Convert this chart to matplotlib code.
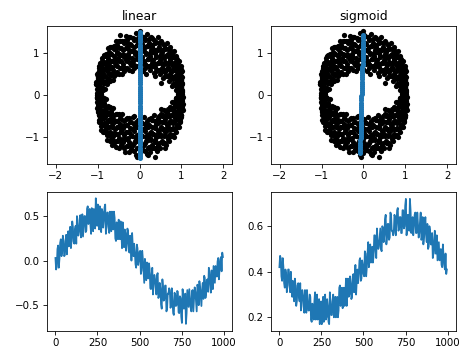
import numpy as np
import matplotlib
matplotlib.use('Agg')
import matplotlib.pyplot as plt

# input ring (same points in both top panels), first set: 6 points per row
ring_x = [
    1.00, 1.03, 0.98, 1.02, 0.97, 1.01,
    1.00, 1.03, 0.98, 1.02, 0.97, 1.01,
    0.98, 1.01, 0.96, 1.00, 0.95, 0.99,
    0.97, 1.00, 0.95, 0.99, 0.94, 0.98,
    0.94, 0.97, 0.92, 0.96, 0.91, 0.95,
    0.91, 0.94, 0.89, 0.93, 0.88, 0.92,
    0.87, 0.90, 0.85, 0.89, 0.84, 0.88,
    0.82, 0.85, 0.80, 0.84, 0.79, 0.83,
    0.77, 0.80, 0.75, 0.79, 0.74, 0.78,
    0.71, 0.74, 0.69, 0.73, 0.68, 0.72,
    0.64, 0.67, 0.62, 0.66, 0.61, 0.65,
    0.57, 0.60, 0.55, 0.59, 0.54, 0.58,
    0.50, 0.53, 0.48, 0.52, 0.47, 0.51,
    0.42, 0.45, 0.40, 0.44, 0.39, 0.43,
    0.34, 0.37, 0.32, 0.36, 0.31, 0.35,
    0.26, 0.29, 0.24, 0.28, 0.23, 0.27,
    0.17, 0.20, 0.15, 0.19, 0.14, 0.18,
    0.09, 0.12, 0.07, 0.11, 0.06, 0.10,
    0.00, 0.03, -0.02, 0.02, -0.03, 0.01,
    -0.09, -0.06, -0.11, -0.07, -0.12, -0.08,
    -0.17, -0.14, -0.19, -0.15, -0.20, -0.16,
    -0.26, -0.23, -0.28, -0.24, -0.29, -0.25,
    -0.34, -0.31, -0.36, -0.32, -0.37, -0.33,
    -0.42, -0.39, -0.44, -0.40, -0.45, -0.41,
    -0.50, -0.47, -0.52, -0.48, -0.53, -0.49,
    -0.57, -0.54, -0.59, -0.55, -0.60, -0.56,
    -0.64, -0.61, -0.66, -0.62, -0.67, -0.63,
    -0.71, -0.68, -0.73, -0.69, -0.74, -0.70,
    -0.77, -0.74, -0.79, -0.75, -0.80, -0.76,
    -0.82, -0.79, -0.84, -0.80, -0.85, -0.81,
    -0.87, -0.84, -0.89, -0.85, -0.90, -0.86,
    -0.91, -0.88, -0.93, -0.89, -0.94, -0.90,
    -0.94, -0.91, -0.96, -0.92, -0.97, -0.93,
    -0.97, -0.94, -0.99, -0.95, -1.00, -0.96,
    -0.98, -0.95, -1.00, -0.96, -1.01, -0.97,
    -1.00, -0.97, -1.02, -0.98, -1.03, -0.99,
    -1.00, -0.97, -1.02, -0.98, -1.03, -0.99,
    -1.00, -0.97, -1.02, -0.98, -1.03, -0.99,
    -0.98, -0.95, -1.00, -0.96, -1.01, -0.97,
    -0.97, -0.94, -0.99, -0.95, -1.00, -0.96,
    -0.94, -0.91, -0.96, -0.92, -0.97, -0.93,
    -0.91, -0.88, -0.93, -0.89, -0.94, -0.90,
    -0.87, -0.84, -0.89, -0.85, -0.90, -0.86,
    -0.82, -0.79, -0.84, -0.80, -0.85, -0.81,
    -0.77, -0.74, -0.79, -0.75, -0.80, -0.76,
    -0.71, -0.68, -0.73, -0.69, -0.74, -0.70,
    -0.64, -0.61, -0.66, -0.62, -0.67, -0.63,
    -0.57, -0.54, -0.59, -0.55, -0.60, -0.56,
    -0.50, -0.47, -0.52, -0.48, -0.53, -0.49,
    -0.42, -0.39, -0.44, -0.40, -0.45, -0.41,
    -0.34, -0.31, -0.36, -0.32, -0.37, -0.33,
    -0.26, -0.23, -0.28, -0.24, -0.29, -0.25,
    -0.17, -0.14, -0.19, -0.15, -0.20, -0.16,
    -0.09, -0.06, -0.11, -0.07, -0.12, -0.08,
    0.00, 0.03, -0.02, 0.02, -0.03, 0.01,
    0.09, 0.12, 0.07, 0.11, 0.06, 0.10,
    0.17, 0.20, 0.15, 0.19, 0.14, 0.18,
    0.26, 0.29, 0.24, 0.28, 0.23, 0.27,
    0.34, 0.37, 0.32, 0.36, 0.31, 0.35,
    0.42, 0.45, 0.40, 0.44, 0.39, 0.43,
    0.50, 0.53, 0.48, 0.52, 0.47, 0.51,
    0.57, 0.60, 0.55, 0.59, 0.54, 0.58,
    0.64, 0.67, 0.62, 0.66, 0.61, 0.65,
    0.71, 0.74, 0.69, 0.73, 0.68, 0.72,
    0.77, 0.80, 0.75, 0.79, 0.74, 0.78,
    0.82, 0.85, 0.80, 0.84, 0.79, 0.83,
    0.87, 0.90, 0.85, 0.89, 0.84, 0.88,
    0.91, 0.94, 0.89, 0.93, 0.88, 0.92,
    0.94, 0.97, 0.92, 0.96, 0.91, 0.95,
    0.97, 1.00, 0.95, 0.99, 0.94, 0.98,
    0.98, 1.01, 0.96, 1.00, 0.95, 0.99,
    1.00, 1.03, 0.98, 1.02, 0.97, 1.01,
    0.16, 0.36, 0.52, -0.14, 0.52, 0.37,
    -0.05, 0.20, 0.00, -0.47, 0.62, -0.66,
]
ring_y = [
    -0.38, -0.22, -0.05, 0.10, 0.26, 0.42,
    -0.22, -0.05, 0.11, 0.27, 0.43, 0.56,
    -0.25, -0.10, 0.07, 0.22, 0.38, 0.54,
    -0.12, 0.04, 0.21, 0.36, 0.52, 0.68,
    0.03, 0.20, 0.36, 0.52, 0.68, 0.81,
    0.00, 0.15, 0.32, 0.47, 0.63, 0.79,
    0.12, 0.28, 0.45, 0.60, 0.76, 0.92,
    0.26, 0.43, 0.59, 0.75, 0.91, 1.04,
    0.22, 0.37, 0.54, 0.69, 0.85, 1.01,
    0.33, 0.49, 0.66, 0.81, 0.97, 1.13,
    0.46, 0.63, 0.79, 0.95, 1.11, 1.24,
    0.40, 0.55, 0.72, 0.87, 1.03, 1.19,
    0.49, 0.65, 0.82, 0.97, 1.13, 1.29,
    0.60, 0.77, 0.93, 1.09, 1.25, 1.38,
    0.52, 0.67, 0.84, 0.99, 1.15, 1.31,
    0.59, 0.75, 0.92, 1.07, 1.23, 1.39,
    0.68, 0.85, 1.00, 1.17, 1.33, 1.46,
    0.58, 0.73, 0.90, 1.05, 1.21, 1.37,
    0.62, 0.78, 0.95, 1.10, 1.26, 1.42,
    0.69, 0.86, 1.02, 1.18, 1.34, 1.47,
    0.57, 0.72, 0.89, 1.04, 1.20, 1.36,
    0.59, 0.75, 0.92, 1.07, 1.23, 1.39,
    0.63, 0.80, 0.96, 1.12, 1.28, 1.41,
    0.49, 0.64, 0.81, 0.96, 1.12, 1.28,
    0.49, 0.65, 0.82, 0.97, 1.13, 1.29,
    0.51, 0.68, 0.84, 1.00, 1.16, 1.29,
    0.35, 0.50, 0.67, 0.82, 0.98, 1.14,
    0.33, 0.49, 0.66, 0.81, 0.97, 1.13,
    0.33, 0.50, 0.66, 0.82, 0.98, 1.11,
    0.15, 0.30, 0.47, 0.62, 0.78, 0.94,
    0.12, 0.28, 0.45, 0.60, 0.76, 0.92,
    0.11, 0.28, 0.44, 0.60, 0.76, 0.89,
    -0.08, 0.07, 0.24, 0.39, 0.55, 0.71,
    -0.12, 0.04, 0.21, 0.36, 0.52, 0.68,
    -0.14, 0.03, 0.19, 0.35, 0.51, 0.64,
    -0.33, -0.18, -0.01, 0.14, 0.30, 0.46,
    -0.38, -0.22, -0.05, 0.10, 0.26, 0.42,
    -0.40, -0.23, -0.07, 0.09, 0.25, 0.38,
    -0.59, -0.44, -0.27, -0.12, 0.04, 0.20,
    -0.64, -0.48, -0.31, -0.16, 0.00, 0.16,
    -0.65, -0.48, -0.32, -0.16, 0.00, 0.13,
    -0.84, -0.69, -0.52, -0.37, -0.21, -0.05,
    -0.88, -0.72, -0.55, -0.40, -0.24, -0.08,
    -0.88, -0.71, -0.55, -0.39, -0.23, -0.10,
    -1.06, -0.91, -0.74, -0.59, -0.43, -0.27,
    -1.09, -0.93, -0.76, -0.61, -0.45, -0.29,
    -1.08, -0.91, -0.75, -0.59, -0.43, -0.30,
    -1.24, -1.09, -0.92, -0.77, -0.61, -0.45,
    -1.25, -1.09, -0.92, -0.77, -0.61, -0.45,
    -1.22, -1.05, -0.89, -0.73, -0.57, -0.44,
    -1.36, -1.21, -1.04, -0.89, -0.73, -0.57,
    -1.35, -1.19, -1.02, -0.87, -0.71, -0.55,
    -1.30, -1.13, -0.97, -0.81, -0.65, -0.52,
    -1.42, -1.27, -1.10, -0.95, -0.79, -0.63,
    -1.38, -1.22, -1.05, -0.90, -0.74, -0.58,
    -1.31, -1.14, -0.98, -0.82, -0.66, -0.53,
    -1.41, -1.26, -1.09, -0.94, -0.78, -0.62,
    -1.35, -1.19, -1.02, -0.87, -0.71, -0.55,
    -1.25, -1.08, -0.92, -0.76, -0.60, -0.47,
    -1.33, -1.18, -1.01, -0.86, -0.70, -0.54,
    -1.25, -1.09, -0.92, -0.77, -0.61, -0.45,
    -1.13, -0.96, -0.80, -0.64, -0.48, -0.35,
    -1.19, -1.04, -0.87, -0.72, -0.56, -0.40,
    -1.09, -0.93, -0.76, -0.61, -0.45, -0.29,
    -0.95, -0.78, -0.62, -0.46, -0.30, -0.17,
    -0.99, -0.84, -0.67, -0.52, -0.36, -0.20,
    -0.88, -0.72, -0.55, -0.40, -0.24, -0.08,
    -0.73, -0.56, -0.40, -0.24, -0.08, 0.05,
    -0.76, -0.61, -0.44, -0.29, -0.13, 0.03,
    -0.64, -0.48, -0.31, -0.16, 0.00, 0.16,
    -0.48, -0.31, -0.15, 0.01, 0.17, 0.30,
    -0.51, -0.36, -0.19, -0.04, 0.12, 0.28,
    0.50, 0.44, 0.29, -0.49, -0.33, -1.47,
    -1.47, -1.42, 1.51, 1.42, -1.27, -1.18,
]

# second set of ring points, 5 per row
ring_x_b = [
    1.01, 0.98, 1.02, 0.99, 1.00,
    1.00, 0.97, 1.01, 0.98, 0.99,
    0.99, 0.96, 1.00, 0.97, 0.98,
    0.96, 0.93, 0.97, 0.94, 0.95,
    0.93, 0.90, 0.94, 0.91, 0.92,
    0.90, 0.87, 0.91, 0.88, 0.89,
    0.85, 0.82, 0.86, 0.83, 0.84,
    0.80, 0.77, 0.81, 0.78, 0.79,
    0.75, 0.72, 0.76, 0.73, 0.74,
    0.69, 0.66, 0.70, 0.67, 0.68,
    0.62, 0.59, 0.63, 0.60, 0.61,
    0.55, 0.52, 0.56, 0.53, 0.54,
    0.47, 0.44, 0.48, 0.45, 0.46,
    0.39, 0.36, 0.40, 0.37, 0.38,
    0.31, 0.28, 0.32, 0.29, 0.30,
    0.23, 0.20, 0.24, 0.21, 0.22,
    0.14, 0.11, 0.15, 0.12, 0.13,
    0.05, 0.02, 0.06, 0.03, 0.04,
    -0.03, -0.06, -0.02, -0.05, -0.04,
    -0.12, -0.15, -0.11, -0.14, -0.13,
    -0.21, -0.24, -0.20, -0.23, -0.22,
    -0.29, -0.32, -0.28, -0.31, -0.30,
    -0.37, -0.40, -0.36, -0.39, -0.38,
    -0.45, -0.48, -0.44, -0.47, -0.46,
    -0.53, -0.56, -0.52, -0.55, -0.54,
    -0.60, -0.63, -0.59, -0.62, -0.61,
    -0.67, -0.70, -0.66, -0.69, -0.68,
    -0.73, -0.76, -0.72, -0.75, -0.74,
    -0.78, -0.81, -0.77, -0.80, -0.79,
    -0.83, -0.86, -0.82, -0.85, -0.84,
    -0.88, -0.91, -0.87, -0.90, -0.89,
    -0.91, -0.94, -0.90, -0.93, -0.92,
    -0.94, -0.97, -0.93, -0.96, -0.95,
    -0.97, -1.00, -0.96, -0.99, -0.98,
    -0.98, -1.01, -0.97, -1.00, -0.99,
    -0.99, -1.02, -0.98, -1.01, -1.00,
    -0.99, -1.02, -0.98, -1.01, -1.00,
    -0.98, -1.01, -0.97, -1.00, -0.99,
    -0.97, -1.00, -0.96, -0.99, -0.98,
    -0.94, -0.97, -0.93, -0.96, -0.95,
    -0.91, -0.94, -0.90, -0.93, -0.92,
    -0.88, -0.91, -0.87, -0.90, -0.89,
    -0.83, -0.86, -0.82, -0.85, -0.84,
    -0.78, -0.81, -0.77, -0.80, -0.79,
    -0.73, -0.76, -0.72, -0.75, -0.74,
    -0.67, -0.70, -0.66, -0.69, -0.68,
    -0.60, -0.63, -0.59, -0.62, -0.61,
    -0.53, -0.56, -0.52, -0.55, -0.54,
    -0.45, -0.48, -0.44, -0.47, -0.46,
    -0.37, -0.40, -0.36, -0.39, -0.38,
    -0.29, -0.32, -0.28, -0.31, -0.30,
    -0.21, -0.24, -0.20, -0.23, -0.22,
    -0.12, -0.15, -0.11, -0.14, -0.13,
    -0.03, -0.06, -0.02, -0.05, -0.04,
    0.05, 0.02, 0.06, 0.03, 0.04,
    0.14, 0.11, 0.15, 0.12, 0.13,
    0.23, 0.20, 0.24, 0.21, 0.22,
    0.31, 0.28, 0.32, 0.29, 0.30,
    0.39, 0.36, 0.40, 0.37, 0.38,
    0.47, 0.44, 0.48, 0.45, 0.46,
    0.55, 0.52, 0.56, 0.53, 0.54,
    0.62, 0.59, 0.63, 0.60, 0.61,
    0.69, 0.66, 0.70, 0.67, 0.68,
    0.75, 0.72, 0.76, 0.73, 0.74,
    0.80, 0.77, 0.81, 0.78, 0.79,
    0.85, 0.82, 0.86, 0.83, 0.84,
    0.90, 0.87, 0.91, 0.88, 0.89,
    0.93, 0.90, 0.94, 0.91, 0.92,
    0.96, 0.93, 0.97, 0.94, 0.95,
    0.99, 0.96, 1.00, 0.97, 0.98,
    1.00, 0.97, 1.01, 0.98, 0.99,
    1.01, 0.98, 1.02, 0.99, 1.00,
]
ring_y_b = [
    -0.26, -0.09, 0.07, 0.23, 0.39,
    -0.22, -0.06, 0.11, 0.27, 0.44,
    -0.04, 0.13, 0.29, 0.45, 0.62,
    0.00, 0.17, 0.33, 0.49, 0.65,
    0.03, 0.19, 0.36, 0.52, 0.69,
    0.20, 0.37, 0.53, 0.69, 0.86,
    0.24, 0.41, 0.57, 0.73, 0.89,
    0.26, 0.42, 0.59, 0.75, 0.92,
    0.42, 0.59, 0.75, 0.91, 1.08,
    0.44, 0.61, 0.77, 0.93, 1.09,
    0.44, 0.60, 0.77, 0.93, 1.10,
    0.58, 0.75, 0.91, 1.07, 1.24,
    0.59, 0.76, 0.92, 1.08, 1.24,
    0.57, 0.73, 0.90, 1.06, 1.23,
    0.69, 0.86, 1.02, 1.18, 1.35,
    0.68, 0.85, 1.01, 1.17, 1.33,
    0.64, 0.80, 0.97, 1.13, 1.30,
    0.74, 0.91, 1.07, 1.23, 1.40,
    0.70, 0.87, 1.03, 1.19, 1.35,
    0.64, 0.80, 0.97, 1.13, 1.30,
    0.72, 0.89, 1.05, 1.21, 1.38,
    0.65, 0.82, 0.98, 1.14, 1.30,
    0.57, 0.73, 0.90, 1.06, 1.23,
    0.63, 0.80, 0.96, 1.12, 1.29,
    0.54, 0.71, 0.87, 1.03, 1.19,
    0.44, 0.60, 0.77, 0.93, 1.10,
    0.48, 0.65, 0.81, 0.97, 1.14,
    0.38, 0.55, 0.71, 0.87, 1.03,
    0.26, 0.42, 0.59, 0.75, 0.92,
    0.28, 0.45, 0.61, 0.77, 0.94,
    0.16, 0.33, 0.49, 0.65, 0.81,
    0.03, 0.19, 0.36, 0.52, 0.69,
    0.04, 0.21, 0.37, 0.53, 0.70,
    -0.08, 0.09, 0.25, 0.41, 0.57,
    -0.22, -0.06, 0.11, 0.27, 0.44,
    -0.22, -0.05, 0.11, 0.27, 0.44,
    -0.34, -0.17, -0.01, 0.15, 0.31,
    -0.48, -0.32, -0.15, 0.01, 0.18,
    -0.48, -0.31, -0.15, 0.01, 0.18,
    -0.60, -0.43, -0.27, -0.11, 0.05,
    -0.73, -0.57, -0.40, -0.24, -0.07,
    -0.72, -0.55, -0.39, -0.23, -0.06,
    -0.84, -0.67, -0.51, -0.35, -0.19,
    -0.96, -0.80, -0.63, -0.47, -0.30,
    -0.94, -0.77, -0.61, -0.45, -0.28,
    -1.04, -0.87, -0.71, -0.55, -0.39,
    -1.14, -0.98, -0.81, -0.65, -0.48,
    -1.10, -0.93, -0.77, -0.61, -0.44,
    -1.19, -1.02, -0.86, -0.70, -0.54,
    -1.27, -1.11, -0.94, -0.78, -0.61,
    -1.21, -1.04, -0.88, -0.72, -0.55,
    -1.28, -1.11, -0.95, -0.79, -0.63,
    -1.34, -1.18, -1.01, -0.85, -0.68,
    -1.26, -1.09, -0.93, -0.77, -0.60,
    -1.30, -1.13, -0.97, -0.81, -0.65,
    -1.34, -1.18, -1.01, -0.85, -0.68,
    -1.24, -1.07, -0.91, -0.75, -0.58,
    -1.25, -1.08, -0.92, -0.76, -0.60,
    -1.27, -1.11, -0.94, -0.78, -0.61,
    -1.15, -0.98, -0.82, -0.66, -0.49,
    -1.14, -0.97, -0.81, -0.65, -0.49,
    -1.14, -0.98, -0.81, -0.65, -0.48,
    -1.00, -0.83, -0.67, -0.51, -0.34,
    -0.98, -0.81, -0.65, -0.49, -0.33,
    -0.96, -0.80, -0.63, -0.47, -0.30,
    -0.80, -0.63, -0.47, -0.31, -0.14,
    -0.76, -0.59, -0.43, -0.27, -0.11,
    -0.73, -0.57, -0.40, -0.24, -0.07,
    -0.56, -0.39, -0.23, -0.07, 0.10,
    -0.52, -0.35, -0.19, -0.03, 0.13,
    -0.48, -0.32, -0.15, 0.01, 0.18,
    -0.30, -0.13, 0.03, 0.19, 0.36,
]

# model outputs drawn on top (blue column)
linear_col_y = [
    -1.50, -1.45, -1.40, -1.35, -1.30, -1.25, -1.20, -1.15, -1.10, -1.05,
    -1.00, -0.95, -0.90, -0.85, -0.80, -0.75, -0.70, -0.65, -0.60, -0.55,
    -0.50, -0.45, -0.40, -0.35, -0.30, -0.25, -0.20, -0.15, -0.10, -0.05,
    0.00, 0.05, 0.10, 0.15, 0.20, 0.25, 0.30, 0.35, 0.40, 0.45,
    0.50, 0.55, 0.60, 0.65, 0.70, 0.75, 0.80, 0.85, 0.90, 0.95,
    1.00, 1.05, 1.10, 1.15, 1.20, 1.25, 1.30, 1.35, 1.40, 1.45, 1.50,
]
linear_col_x = [0.0] * len(linear_col_y)
sigmoid_col_y = [
    -1.38, -1.33, -1.28, -1.23, -1.18, -1.13, -1.08, -1.03, -0.98, -0.93,
    -0.88, -0.83, -0.78, -0.73, -0.68, -0.63, -0.58, -0.53, -0.48, -0.43,
    -0.38, -0.33, -0.28, -0.23, -0.18, -0.13, -0.08, -0.03, 0.02, 0.07,
    0.12, 0.17, 0.22, 0.27, 0.32, 0.37, 0.42, 0.47, 0.52, 0.57,
    0.62, 0.67, 0.72, 0.77, 0.82, 0.87, 0.92, 0.97, 1.02, 1.07,
    1.12, 1.17, 1.22, 1.27, 1.32, 1.37, 1.42,
]
sigmoid_col_x = ([-0.08] * 7 + [-0.07] * 7 + [-0.06] * 7 + [-0.05] * 7
                 + [-0.04] * 7 + [-0.03] * 7 + [-0.02] * 7 + [-0.01] * 4
                 + [0.00] * 4)

# noisy sine outputs, one sample every 4 steps
linear_out = [
    0.03, -0.10, -0.07, 0.13, 0.17, -0.08, 0.02, 0.20, 0.24, 0.05,
    0.10, 0.28, 0.22, 0.05, 0.06, 0.22, 0.29, 0.07, 0.22, 0.33,
    0.16, 0.31, 0.38, 0.14, 0.23, 0.44, 0.38, 0.21, 0.19, 0.35,
    0.39, 0.19, 0.50, 0.45, 0.28, 0.32, 0.40, 0.51, 0.26, 0.32,
    0.52, 0.27, 0.39, 0.50, 0.50, 0.32, 0.34, 0.58, 0.61, 0.41,
    0.46, 0.58, 0.40, 0.30, 0.59, 0.53, 0.33, 0.58, 0.53, 0.36,
    0.70, 0.41, 0.39, 0.63, 0.52, 0.35, 0.61, 0.50, 0.32, 0.58,
    0.55, 0.37, 0.45, 0.60, 0.63, 0.30, 0.38, 0.54, 0.54, 0.38,
    0.31, 0.55, 0.45, 0.33, 0.55, 0.37, 0.35, 0.55, 0.48, 0.25,
    0.22, 0.43, 0.41, 0.24, 0.46, 0.36, 0.24, 0.44, 0.31, 0.14,
    0.43, 0.21, 0.15, 0.35, 0.31, 0.11, 0.19, 0.36, 0.33, 0.11,
    0.09, 0.28, 0.20, 0.00, 0.31, 0.16, 0.05, 0.19, 0.10, -0.04,
    -0.08, 0.18, 0.14, -0.05, 0.00, 0.10, 0.11, -0.15, -0.11, 0.11,
    0.02, -0.12, -0.25, 0.02, -0.07, -0.22, -0.02, -0.12, -0.20, -0.03,
    -0.09, -0.31, -0.32, -0.15, -0.08, -0.38, -0.26, -0.16, -0.20, -0.30,
    -0.38, -0.16, -0.14, -0.42, -0.40, -0.25, -0.31, -0.49, -0.54, -0.21,
    -0.30, -0.45, -0.43, -0.28, -0.28, -0.57, -0.54, -0.37, -0.37, -0.31,
    -0.33, -0.53, -0.51, -0.31, -0.44, -0.59, -0.61, -0.36, -0.38, -0.51,
    -0.50, -0.34, -0.35, -0.58, -0.59, -0.40, -0.42, -0.63, -0.70, -0.32,
    -0.40, -0.54, -0.46, -0.37, -0.71, -0.59, -0.33, -0.43, -0.52, -0.32,
    -0.42, -0.53, -0.57, -0.34, -0.33, -0.57, -0.44, -0.30, -0.35, -0.46,
    -0.57, -0.27, -0.30, -0.50, -0.23, -0.30, -0.41, -0.51, -0.32, -0.25,
    -0.43, -0.17, -0.19, -0.42, -0.37, -0.22, -0.21, -0.35, -0.08, -0.13,
    -0.27, -0.36, -0.11, -0.12, -0.32, -0.06, -0.15, -0.25, -0.06, -0.10,
    -0.18, -0.01, 0.03, -0.21, -0.09, 0.01, 0.04, -0.12, 0.09, 0.04,
]
sigmoid_out = [
    0.42, 0.47, 0.46, 0.38, 0.36, 0.46, 0.42, 0.35, 0.33, 0.41,
    0.39, 0.31, 0.34, 0.41, 0.41, 0.34, 0.31, 0.40, 0.34, 0.29,
    0.36, 0.30, 0.27, 0.37, 0.34, 0.25, 0.27, 0.34, 0.35, 0.29,
    0.27, 0.35, 0.23, 0.25, 0.32, 0.30, 0.27, 0.22, 0.32, 0.30,
    0.22, 0.32, 0.27, 0.23, 0.23, 0.30, 0.29, 0.19, 0.18, 0.26,
    0.24, 0.19, 0.27, 0.31, 0.19, 0.21, 0.30, 0.19, 0.21, 0.28,
    0.17, 0.26, 0.27, 0.17, 0.22, 0.29, 0.18, 0.23, 0.30, 0.19,
    0.20, 0.28, 0.25, 0.18, 0.17, 0.31, 0.27, 0.21, 0.21, 0.27,
    0.30, 0.20, 0.25, 0.29, 0.20, 0.28, 0.29, 0.20, 0.23, 0.33,
    0.34, 0.25, 0.26, 0.33, 0.24, 0.28, 0.33, 0.25, 0.30, 0.37,
    0.25, 0.34, 0.37, 0.29, 0.30, 0.38, 0.35, 0.28, 0.29, 0.38,
    0.39, 0.31, 0.35, 0.43, 0.30, 0.36, 0.41, 0.35, 0.39, 0.45,
    0.46, 0.36, 0.37, 0.45, 0.43, 0.39, 0.38, 0.49, 0.48, 0.38,
    0.42, 0.48, 0.53, 0.42, 0.46, 0.52, 0.44, 0.48, 0.51, 0.44,
    0.47, 0.56, 0.56, 0.49, 0.46, 0.59, 0.54, 0.50, 0.51, 0.55,
    0.59, 0.50, 0.49, 0.60, 0.59, 0.53, 0.56, 0.63, 0.65, 0.52,
    0.55, 0.61, 0.61, 0.54, 0.55, 0.66, 0.65, 0.58, 0.58, 0.56,
    0.57, 0.65, 0.64, 0.56, 0.61, 0.67, 0.68, 0.58, 0.59, 0.64,
    0.64, 0.57, 0.57, 0.67, 0.67, 0.59, 0.60, 0.69, 0.72, 0.56,
    0.59, 0.65, 0.62, 0.58, 0.72, 0.67, 0.57, 0.61, 0.64, 0.56,
    0.60, 0.65, 0.66, 0.57, 0.57, 0.66, 0.61, 0.55, 0.57, 0.62,
    0.66, 0.54, 0.55, 0.64, 0.52, 0.55, 0.60, 0.64, 0.56, 0.53,
    0.61, 0.50, 0.51, 0.60, 0.58, 0.52, 0.52, 0.57, 0.46, 0.48,
    0.54, 0.58, 0.48, 0.48, 0.56, 0.45, 0.49, 0.53, 0.45, 0.47,
    0.50, 0.43, 0.42, 0.52, 0.47, 0.43, 0.41, 0.48, 0.39, 0.41,
]
step = 4
sample_x = np.arange(len(linear_out)) * step

fig = plt.figure(figsize=(474 / 74, 361 / 74), dpi=74)
ax_tl = fig.add_axes([0.0992, 0.5457, 0.3903, 0.3823])
ax_tr = fig.add_axes([0.5717, 0.5457, 0.3903, 0.3823])
ax_bl = fig.add_axes([0.0992, 0.0831, 0.3903, 0.3850])
ax_br = fig.add_axes([0.5717, 0.0831, 0.3903, 0.3850])

for ax, cx, cy, title in [(ax_tl, linear_col_x, linear_col_y, 'linear'),
                          (ax_tr, sigmoid_col_x, sigmoid_col_y, 'sigmoid')]:
    ax.scatter(ring_x, ring_y, s=26, color='k', linewidths=0)
    ax.scatter(ring_x_b, ring_y_b, s=26, color='k', linewidths=0)
    ax.scatter(cx, cy, s=24, color='C0', linewidths=0)
    ax.set_xlim(-2.21, 2.21)
    ax.set_ylim(-1.64, 1.64)
    ax.set_xticks([-2, -1, 0, 1, 2])
    ax.set_yticks([-1, 0, 1])
    ax.set_title(title)

ax_bl.plot(sample_x, linear_out, color='C0', linewidth=1.7)
ax_bl.set_xlim(-50, 1050)
ax_bl.set_ylim(-0.79, 0.77)
ax_bl.set_xticks([0, 250, 500, 750, 1000])
ax_bl.set_yticks([-0.5, 0.0, 0.5])

ax_br.plot(sample_x, sigmoid_out, color='C0', linewidth=1.7)
ax_br.set_xlim(-50, 1050)
ax_br.set_ylim(0.14, 0.75)
ax_br.set_xticks([0, 250, 500, 750, 1000])
ax_br.set_yticks([0.2, 0.4, 0.6])

fig.savefig('out.png', dpi=74)
